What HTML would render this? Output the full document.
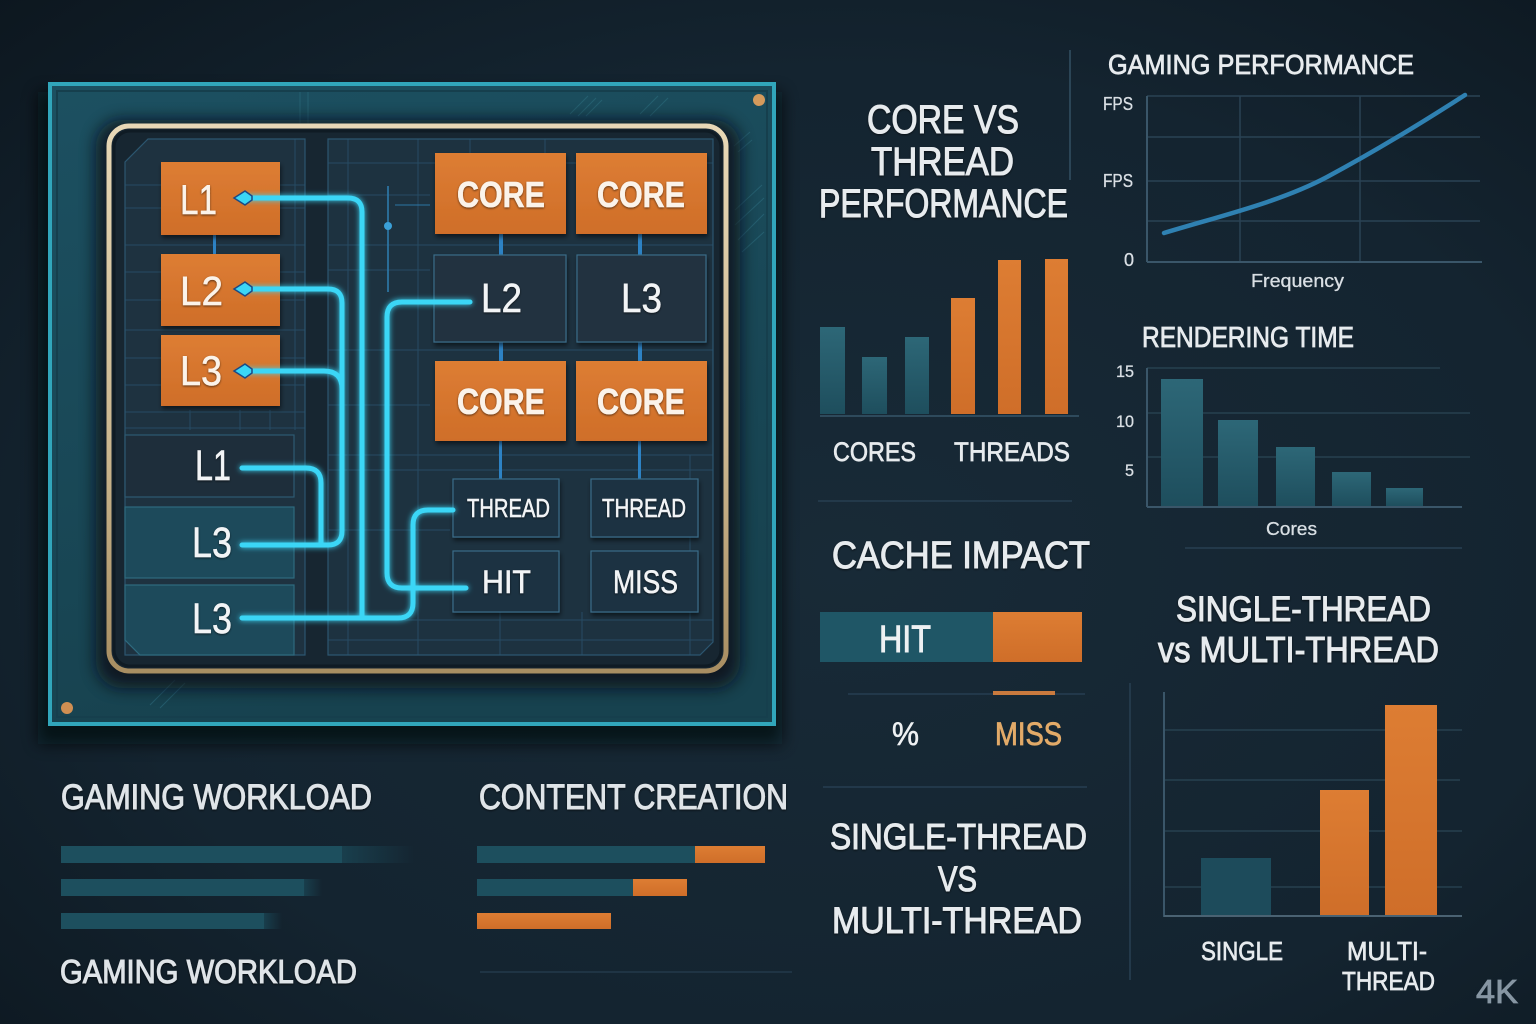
<!DOCTYPE html>
<html><head><meta charset="utf-8"><style>
html,body{margin:0;padding:0;background:#121f2a;}
svg{display:block;}
text{font-family:"Liberation Sans",sans-serif;}
</style></head><body>
<svg width="1536" height="1024" viewBox="0 0 1536 1024" xmlns="http://www.w3.org/2000/svg">
<defs>
<radialGradient id="bg" cx="0.55" cy="0.55" r="0.8">
<stop offset="0" stop-color="#182a37"/><stop offset="0.6" stop-color="#142430"/><stop offset="1" stop-color="#0c161e"/>
</radialGradient>
<linearGradient id="board" x1="0" y1="0" x2="0.3" y2="1">
<stop offset="0" stop-color="#1c5061"/><stop offset="1" stop-color="#17424f"/>
</linearGradient>
<linearGradient id="gold" x1="0" y1="0" x2="0" y2="1">
<stop offset="0" stop-color="#e8d8b6"/><stop offset="0.6" stop-color="#cbb68e"/><stop offset="1" stop-color="#a88e62"/>
</linearGradient>
<linearGradient id="org" x1="0" y1="0" x2="0" y2="1">
<stop offset="0" stop-color="#dd7d33"/><stop offset="1" stop-color="#cf6e29"/>
</linearGradient>
<linearGradient id="tealbar" x1="0" y1="0" x2="0" y2="1">
<stop offset="0" stop-color="#2d6777"/><stop offset="1" stop-color="#1e4e5d"/>
</linearGradient>
<linearGradient id="fade1" x1="0" y1="0" x2="1" y2="0">
<stop offset="0" stop-color="#1b4a59"/><stop offset="1" stop-color="#1b4a59" stop-opacity="0"/>
</linearGradient>
<filter id="glow" x="-20%" y="-20%" width="140%" height="140%">
<feGaussianBlur stdDeviation="3" result="b"/>
<feMerge><feMergeNode in="b"/><feMergeNode in="SourceGraphic"/></feMerge>
</filter>
<filter id="sh" x="-20%" y="-20%" width="140%" height="150%">
<feDropShadow dx="1" dy="3" stdDeviation="2.5" flood-color="#000" flood-opacity="0.55"/>
</filter>
<filter id="blur8"><feGaussianBlur stdDeviation="8"/></filter>
<filter id="tsh"><feDropShadow dx="0" dy="1" stdDeviation="1" flood-color="#000" flood-opacity="0.6"/></filter>
</defs>

<rect width="1536" height="1024" fill="url(#bg)"/>

<!-- BOARD -->
<rect x="38" y="92" width="744" height="652" fill="#05090d" opacity="0.7" filter="url(#blur8)"/>
<rect x="50" y="84" width="724" height="640" fill="url(#board)" stroke="#31a6bb" stroke-width="4"/>
<rect x="57" y="91" width="710" height="626" fill="none" stroke="#163f4d" stroke-width="2"/>
<g stroke="#2d6c7e" stroke-width="1" opacity="0.6">
<line x1="300" y1="92" x2="300" y2="124"/><line x1="308" y1="92" x2="308" y2="124"/>
<line x1="570" y1="114" x2="588" y2="96"/><line x1="578" y1="116" x2="596" y2="98"/><line x1="586" y1="116" x2="602" y2="100"/>
<line x1="640" y1="114" x2="658" y2="96"/><line x1="650" y1="116" x2="668" y2="98"/>
<line x1="734" y1="146" x2="750" y2="132"/><line x1="738" y1="152" x2="752" y2="140"/>
<line x1="735" y1="210" x2="762" y2="185"/><line x1="735" y1="225" x2="764" y2="198"/><line x1="738" y1="240" x2="764" y2="214"/><line x1="742" y1="252" x2="764" y2="232"/>
<line x1="150" y1="705" x2="175" y2="680"/><line x1="160" y1="708" x2="185" y2="683"/>
</g>
<circle cx="759" cy="100" r="6" fill="#d49a5c"/>
<circle cx="67" cy="708" r="6" fill="#d08f52"/>

<!-- CARD -->
<rect x="96" y="120" width="644" height="568" rx="26" fill="#071016" opacity="0.8" filter="url(#blur8)"/>
<rect x="109" y="126" width="617" height="545" rx="20" fill="#172631" stroke="url(#gold)" stroke-width="5"/>
<rect x="114" y="131" width="607" height="535" rx="16" fill="none" stroke="#0f1b24" stroke-width="3"/>

<!-- left panel -->
<path d="M148,139 L305,139 L305,655 L125,655 L125,162 Z" fill="#1e3240" stroke="#2c5670" stroke-width="1.2"/>
<!-- right panel -->
<path d="M328,139 L713,139 L713,642 L700,655 L328,655 Z" fill="#1d3240" stroke="#2c5670" stroke-width="1.2"/>

<g stroke="#2a5673" stroke-width="1" opacity="0.7">
<line x1="125" y1="185" x2="305" y2="185"/><line x1="125" y1="208" x2="305" y2="208"/><line x1="125" y1="245" x2="305" y2="245"/>
<line x1="125" y1="272" x2="305" y2="272"/><line x1="125" y1="300" x2="305" y2="300"/><line x1="125" y1="330" x2="305" y2="330"/>
<line x1="125" y1="358" x2="305" y2="358"/><line x1="125" y1="385" x2="305" y2="385"/><line x1="125" y1="412" x2="305" y2="412"/>
<line x1="125" y1="428" x2="305" y2="428"/>
<line x1="295" y1="139" x2="295" y2="430"/><line x1="190" y1="410" x2="190" y2="430"/><line x1="240" y1="410" x2="240" y2="430"/><line x1="270" y1="410" x2="270" y2="430"/>
<line x1="328" y1="163" x2="713" y2="163"/><line x1="328" y1="195" x2="430" y2="195"/><line x1="328" y1="245" x2="713" y2="245"/>
<line x1="328" y1="270" x2="430" y2="270"/><line x1="328" y1="350" x2="713" y2="350"/><line x1="328" y1="405" x2="430" y2="405"/>
<line x1="328" y1="455" x2="713" y2="455"/><line x1="328" y1="470" x2="713" y2="470"/><line x1="328" y1="530" x2="450" y2="530"/>
<line x1="328" y1="620" x2="713" y2="620"/><line x1="328" y1="640" x2="713" y2="640"/>
<line x1="348" y1="139" x2="348" y2="655"/><line x1="418" y1="139" x2="418" y2="655"/><line x1="470" y1="139" x2="470" y2="160"/>
<line x1="545" y1="139" x2="545" y2="160"/><line x1="690" y1="455" x2="690" y2="655"/><line x1="582" y1="612" x2="582" y2="655"/>
<line x1="500" y1="612" x2="500" y2="655"/>
</g>
<line x1="388" y1="186" x2="388" y2="292" stroke="#2f7fb3" stroke-width="1.5"/>
<line x1="395" y1="205" x2="430" y2="205" stroke="#2f7fb3" stroke-width="1.2" opacity="0.7"/>
<circle cx="388" cy="226" r="4" fill="#3aa0d8"/>

<!-- connectors -->
<g fill="#2d82c4">
<rect x="213" y="235" width="3" height="20"/>
<rect x="499" y="234" width="4" height="22"/><rect x="638" y="234" width="4" height="22"/>
<rect x="499" y="341" width="4" height="21"/><rect x="638" y="341" width="4" height="21"/>
<rect x="499" y="441" width="3" height="39"/><rect x="638" y="441" width="3" height="39"/>
</g>

<!-- orange cache boxes -->
<g filter="url(#sh)">
<rect x="161" y="162" width="119" height="73" fill="url(#org)"/>
<rect x="161" y="254" width="119" height="72" fill="url(#org)"/>
<rect x="161" y="335" width="119" height="71" fill="url(#org)"/>
<rect x="435" y="153" width="131" height="81" fill="url(#org)"/>
<rect x="576" y="153" width="131" height="81" fill="url(#org)"/>
<rect x="435" y="361" width="131" height="80" fill="url(#org)"/>
<rect x="576" y="361" width="131" height="80" fill="url(#org)"/>
</g>
<!-- dark core-area boxes -->
<g filter="url(#sh)" stroke="#3a6c88" stroke-width="1.2">
<rect x="434" y="255" width="132" height="87" fill="#24333f"/>
<rect x="577" y="255" width="129" height="87" fill="#24333f"/>
<rect x="453" y="479" width="106" height="58" fill="#1f3242"/>
<rect x="591" y="479" width="107" height="58" fill="#1f3242"/>
<rect x="453" y="551" width="106" height="61" fill="#1f3242"/>
<rect x="591" y="551" width="107" height="61" fill="#1f3242"/>
</g>
<!-- left lower boxes -->
<rect x="125" y="435" width="169" height="62" fill="#1e2e3b" stroke="#2d5a72" stroke-width="1.2"/>
<rect x="125" y="507" width="169" height="71" fill="#1d4a5b" stroke="#2e6a7e" stroke-width="1.2"/>
<path d="M125,585 L294,585 L294,655 L140,655 L125,640 Z" fill="#1d4a5b" stroke="#2e6a7e" stroke-width="1.2"/>

<!-- wires -->
<g fill="none" stroke="#3ad6f6" stroke-width="5" stroke-linecap="round" filter="url(#glow)">
<path d="M246,198 L348,198 Q362,198 362,212 L362,618"/>
<path d="M246,289 L328,289 Q342,289 342,303 L342,531 Q342,545 328,545 L242,545"/>
<path d="M246,371 L324,371 Q342,371 342,389"/>
<path d="M242,468 L306,468 Q321,468 321,483 L321,545"/>
<path d="M242,618 L398,618 Q413,618 413,603 L413,525 Q413,510 428,510 L453,510"/>
<path d="M470,302 L402,302 Q387,302 387,317 L387,573 Q387,588 402,588 L466,588"/>
</g>
<g fill="#3ad6f6" stroke="#1b4a86" stroke-width="1.5">
<path d="M234,198 L245,191 L252,196 L252,200 L245,205 Z"/>
<path d="M234,289 L245,282 L252,287 L252,291 L245,296 Z"/>
<path d="M234,371 L245,364 L252,369 L252,373 L245,378 Z"/>
</g>

<!-- box labels -->
<g fill="#fbf3ea" stroke="#fbf3ea" stroke-width="0.5" filter="url(#tsh)">
<text x="180" y="214" font-size="42" textLength="37" lengthAdjust="spacingAndGlyphs">L1</text>
<text x="180" y="305" font-size="41" textLength="43" lengthAdjust="spacingAndGlyphs">L2</text>
<text x="180" y="385" font-size="42" textLength="42" lengthAdjust="spacingAndGlyphs">L3</text>
<text x="457" y="207" font-size="36" font-weight="bold" textLength="88" lengthAdjust="spacingAndGlyphs">CORE</text>
<text x="597" y="207" font-size="36" font-weight="bold" textLength="88" lengthAdjust="spacingAndGlyphs">CORE</text>
<text x="457" y="414" font-size="36" font-weight="bold" textLength="88" lengthAdjust="spacingAndGlyphs">CORE</text>
<text x="597" y="414" font-size="36" font-weight="bold" textLength="88" lengthAdjust="spacingAndGlyphs">CORE</text>
</g>
<g fill="#f2f4f6" stroke="#f2f4f6" stroke-width="0.5" filter="url(#tsh)">
<text x="481" y="312" font-size="41" textLength="41" lengthAdjust="spacingAndGlyphs">L2</text>
<text x="621" y="312" font-size="41" textLength="41" lengthAdjust="spacingAndGlyphs">L3</text>
<text x="195" y="480" font-size="43" textLength="36" lengthAdjust="spacingAndGlyphs">L1</text>
<text x="192" y="557" font-size="43" textLength="40" lengthAdjust="spacingAndGlyphs">L3</text>
<text x="192" y="633" font-size="43" textLength="40" lengthAdjust="spacingAndGlyphs">L3</text>
<text x="467" y="517" font-size="26" textLength="83" lengthAdjust="spacingAndGlyphs">THREAD</text>
<text x="602" y="517" font-size="26" textLength="84" lengthAdjust="spacingAndGlyphs">THREAD</text>
<text x="482" y="593" font-size="32" textLength="49" lengthAdjust="spacingAndGlyphs">HIT</text>
<text x="613" y="593" font-size="32" textLength="65" lengthAdjust="spacingAndGlyphs">MISS</text>
</g>

<!-- RIGHT SIDE -->
<line x1="1070" y1="50" x2="1070" y2="180" stroke="#2b4556" stroke-width="2"/>
<g fill="#e7ebee" stroke="#e7ebee" stroke-width="1" filter="url(#tsh)">
<text x="867" y="133" font-size="40" textLength="152" lengthAdjust="spacingAndGlyphs">CORE VS</text>
<text x="871" y="175" font-size="40" textLength="143" lengthAdjust="spacingAndGlyphs">THREAD</text>
<text x="819" y="217" font-size="40" textLength="249" lengthAdjust="spacingAndGlyphs">PERFORMANCE</text>
</g>

<!-- left bar chart -->
<g>
<rect x="820" y="327" width="25" height="87" fill="url(#tealbar)"/>
<rect x="862" y="357" width="25" height="57" fill="url(#tealbar)"/>
<rect x="905" y="337" width="24" height="77" fill="url(#tealbar)"/>
<rect x="951" y="298" width="24" height="116" fill="url(#org)"/>
<rect x="998" y="260" width="23" height="154" fill="url(#org)"/>
<rect x="1045" y="259" width="23" height="155" fill="url(#org)"/>
<line x1="820" y1="416" x2="1079" y2="416" stroke="#2e4a5c" stroke-width="2"/>
</g>
<g fill="#e7ebee" stroke="#e7ebee" stroke-width="0.7">
<text x="833" y="461" font-size="27" textLength="83" lengthAdjust="spacingAndGlyphs">CORES</text>
<text x="954" y="461" font-size="27" textLength="116" lengthAdjust="spacingAndGlyphs">THREADS</text>
</g>
<line x1="818" y1="501" x2="1072" y2="501" stroke="#23394a" stroke-width="2"/>

<!-- gaming performance chart -->
<g fill="#e7ebee" stroke="#e7ebee" stroke-width="0.8">
<text x="1108" y="74" font-size="28" textLength="306" lengthAdjust="spacingAndGlyphs">GAMING PERFORMANCE</text>
</g>
<g stroke="#2a4354" stroke-width="1.5" fill="none">
<line x1="1147" y1="96" x2="1480" y2="96"/>
<line x1="1147" y1="137" x2="1480" y2="137"/>
<line x1="1147" y1="181" x2="1480" y2="181"/>
<line x1="1147" y1="221" x2="1480" y2="221"/>
<line x1="1240" y1="96" x2="1240" y2="262"/>
<line x1="1360" y1="96" x2="1360" y2="262"/>
</g>
<line x1="1147" y1="96" x2="1147" y2="262" stroke="#3a5669" stroke-width="2"/>
<line x1="1147" y1="262" x2="1482" y2="262" stroke="#3a5669" stroke-width="2"/>
<path d="M1164,233 C1220,216 1280,202 1327,177 C1370,154 1420,124 1465,95" fill="none" stroke="#2f81b2" stroke-width="4.5" stroke-linecap="round"/>
<g fill="#d9dfe4" stroke="#d9dfe4" stroke-width="0.3" font-size="18">
<text x="1103" y="110" textLength="30" lengthAdjust="spacingAndGlyphs">FPS</text>
<text x="1103" y="187" textLength="30" lengthAdjust="spacingAndGlyphs">FPS</text>
<text x="1124" y="266" textLength="10" lengthAdjust="spacingAndGlyphs">0</text>
<text x="1251" y="287" textLength="93" lengthAdjust="spacingAndGlyphs">Frequency</text>
</g>

<!-- rendering time -->
<g fill="#e7ebee" stroke="#e7ebee" stroke-width="0.8">
<text x="1142" y="347" font-size="29" textLength="212" lengthAdjust="spacingAndGlyphs">RENDERING TIME</text>
</g>
<g stroke="#26404f" stroke-width="1.5">
<line x1="1147" y1="368" x2="1440" y2="368"/>
<line x1="1147" y1="413" x2="1470" y2="413"/>
<line x1="1147" y1="457" x2="1470" y2="457"/>
</g>
<g fill="url(#tealbar)">
<rect x="1161" y="379" width="42" height="127"/>
<rect x="1218" y="420" width="40" height="86"/>
<rect x="1276" y="447" width="39" height="59"/>
<rect x="1332" y="472" width="39" height="34"/>
<rect x="1386" y="488" width="37" height="18"/>
</g>
<line x1="1147" y1="368" x2="1147" y2="507" stroke="#3a5669" stroke-width="2"/>
<line x1="1147" y1="507" x2="1462" y2="507" stroke="#3a5669" stroke-width="2"/>
<g fill="#d9dfe4" stroke="#d9dfe4" stroke-width="0.3" font-size="17">
<text x="1116" y="377" textLength="18" lengthAdjust="spacingAndGlyphs">15</text>
<text x="1116" y="427" textLength="18" lengthAdjust="spacingAndGlyphs">10</text>
<text x="1125" y="476" textLength="9" lengthAdjust="spacingAndGlyphs">5</text>
<text x="1266" y="535" font-size="18" textLength="51" lengthAdjust="spacingAndGlyphs">Cores</text>
</g>
<line x1="1185" y1="548" x2="1462" y2="548" stroke="#23394a" stroke-width="2"/>

<!-- cache impact -->
<g fill="#e7ebee" stroke="#e7ebee" stroke-width="1" filter="url(#tsh)">
<text x="832" y="568" font-size="38" textLength="258" lengthAdjust="spacingAndGlyphs">CACHE IMPACT</text>
</g>
<rect x="820" y="612" width="173" height="50" fill="#1f5666"/>
<rect x="993" y="612" width="89" height="50" fill="url(#org)"/>
<g fill="#eef1f3" stroke="#eef1f3" stroke-width="0.9">
<text x="879" y="652" font-size="38" textLength="52" lengthAdjust="spacingAndGlyphs">HIT</text>
</g>
<line x1="848" y1="694" x2="1085" y2="694" stroke="#22384a" stroke-width="2"/>
<rect x="993" y="691" width="62" height="4" fill="#c97a3e"/>
<text x="892" y="745" font-size="32" fill="#eef1f3" stroke="#eef1f3" stroke-width="0.6" textLength="27" lengthAdjust="spacingAndGlyphs">%</text>
<text x="995" y="745" font-size="32" fill="#e2aa68" stroke="#e2aa68" stroke-width="0.8" textLength="67" lengthAdjust="spacingAndGlyphs">MISS</text>
<line x1="823" y1="787" x2="1087" y2="787" stroke="#22384a" stroke-width="2"/>

<g fill="#e7ebee" stroke="#e7ebee" stroke-width="1" filter="url(#tsh)">
<text x="830" y="849" font-size="36" textLength="257" lengthAdjust="spacingAndGlyphs">SINGLE-THREAD</text>
<text x="938" y="891" font-size="35" textLength="39" lengthAdjust="spacingAndGlyphs">VS</text>
<text x="832" y="933" font-size="37" textLength="250" lengthAdjust="spacingAndGlyphs">MULTI-THREAD</text>
<text x="1176" y="621" font-size="35" textLength="255" lengthAdjust="spacingAndGlyphs">SINGLE-THREAD</text>
<text x="1158" y="662" font-size="36" textLength="281" lengthAdjust="spacingAndGlyphs">vs MULTI-THREAD</text>
</g>

<!-- single vs multi chart -->
<line x1="1130" y1="683" x2="1130" y2="980" stroke="#23394a" stroke-width="2"/>
<g stroke="#26404f" stroke-width="1.5">
<line x1="1164" y1="730" x2="1462" y2="730"/>
<line x1="1164" y1="780" x2="1460" y2="780"/>
<line x1="1164" y1="831" x2="1462" y2="831"/>
<line x1="1164" y1="887" x2="1462" y2="887"/>
</g>
<rect x="1201" y="858" width="70" height="58" fill="#1d4b5b"/>
<rect x="1320" y="790" width="49" height="126" fill="url(#org)"/>
<rect x="1385" y="705" width="52" height="211" fill="url(#org)"/>
<line x1="1164" y1="692" x2="1164" y2="917" stroke="#3a5669" stroke-width="2"/>
<line x1="1164" y1="916" x2="1462" y2="916" stroke="#4a6272" stroke-width="2"/>
<g fill="#e7ebee" stroke="#e7ebee" stroke-width="0.7">
<text x="1201" y="960" font-size="26" textLength="82" lengthAdjust="spacingAndGlyphs">SINGLE</text>
<text x="1347" y="960" font-size="26" textLength="80" lengthAdjust="spacingAndGlyphs">MULTI-</text>
<text x="1342" y="990" font-size="26" textLength="93" lengthAdjust="spacingAndGlyphs">THREAD</text>
</g>
<text x="1476" y="1003" font-size="33" fill="#8796a3" stroke="#8796a3" stroke-width="0.8" textLength="42" lengthAdjust="spacingAndGlyphs">4K</text>

<!-- BOTTOM LEFT -->
<g fill="#dfe4e8" stroke="#dfe4e8" stroke-width="1" filter="url(#tsh)">
<text x="61" y="809" font-size="35" textLength="311" lengthAdjust="spacingAndGlyphs">GAMING WORKLOAD</text>
<text x="479" y="809" font-size="35" textLength="309" lengthAdjust="spacingAndGlyphs">CONTENT CREATION</text>
<text x="60" y="983" font-size="33" textLength="297" lengthAdjust="spacingAndGlyphs">GAMING WORKLOAD</text>
</g>
<rect x="61" y="846" width="281" height="17" fill="#1d4f5e"/>
<rect x="342" y="846" width="72" height="17" fill="url(#fade1)" opacity="0.7"/>
<rect x="61" y="879" width="243" height="17" fill="#1d4f5e"/>
<rect x="304" y="879" width="18" height="17" fill="url(#fade1)" opacity="0.7"/>
<rect x="61" y="913" width="203" height="16" fill="#1d4f5e"/>
<rect x="264" y="913" width="18" height="16" fill="url(#fade1)" opacity="0.7"/>

<rect x="477" y="846" width="218" height="17" fill="#1d4f5e"/>
<rect x="695" y="846" width="70" height="17" fill="url(#org)"/>
<rect x="477" y="879" width="156" height="17" fill="#1d4f5e"/>
<rect x="633" y="879" width="54" height="17" fill="url(#org)"/>
<rect x="477" y="913" width="134" height="16" fill="url(#org)"/>
<line x1="480" y1="972" x2="792" y2="972" stroke="#1f3444" stroke-width="2"/>
</svg>
</body></html>
